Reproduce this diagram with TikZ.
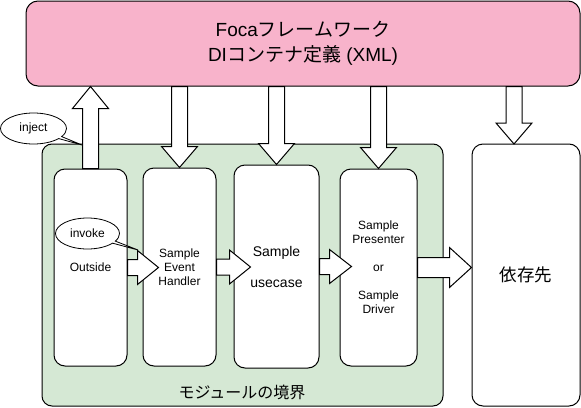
\documentclass[tikz,border=0pt]{standalone}
\usepackage{fontspec}
\setmainfont{Liberation Sans}
\newfontfamily\jp{Noto Sans CJK JP}
\usetikzlibrary{calc,shapes.geometric,shapes.callouts}
\definecolor{focapink}{HTML}{F8B3CB}
\definecolor{modgreen}{HTML}{D5E8D4}
\def\blockarrow[#1](#2)(#3)(#4:#5:#6){%
	\coordinate (ba) at ($(#3)!#6!(#2)$);
	\draw[#1] ($(#2)!#4!90:(#3)$) -- ($(ba)!#4!-90:(#2)$) -- ($(ba)!#5!-90:(#2)$) -- (#3) -- ($(ba)!#5!90:(#2)$) -- ($(ba)!#4!90:(#2)$) -- ($(#2)!#4!-90:(#3)$) -- cycle;}
\tikzset{
	box/.style={draw, line width=1pt, rounded corners=11pt, fill=white, inner sep=0pt},
	blockarr/.style={draw, line width=1pt, fill=white, line join=miter},
	bubble/.style={ellipse callout, draw, line width=0.8pt, fill=white, inner sep=0pt, callout pointer arc=9},
	small/.style={font=\fontsize{12}{14}\selectfont, align=center}
}

\begin{document}
\begin{tikzpicture}[x=1pt, y=-1pt]
			%%%%% START %%%%%
			\useasboundingbox (0, 0) rectangle (581, 407);
			
			\node[box, rounded corners=12pt, fill=focapink, minimum width=554pt, minimum height=85pt, align=center, font=\fontsize{19}{25}\selectfont] (foca) at (303, 43.5) {Foca{\jp フレームワーク}\\DI{\jp コンテナ定義} (XML)};
			
			\node[box, rounded corners=10pt, fill=modgreen, minimum width=401pt, minimum height=262pt] (module) at (242.5, 275) {};
			\node[font=\jp\fontsize{16}{16}\selectfont] (modlabel) at (242, 392) {モジュールの境界};
			
			\node[box, minimum width=108pt, minimum height=262pt, font=\jp\fontsize{17.5}{17.5}\selectfont] (dep) at (526, 275) {依存先};
			
			\node[box, small, minimum width=73pt, minimum height=197pt] (outside) at (90.5, 267.5) {Outside};
			\node[box, small, minimum width=73pt, minimum height=198pt] (handler) at (179.5, 267) {Sample\\Event\\Handler};
			\node[box, minimum width=85pt, minimum height=203pt, align=center, font=\fontsize{14}{17}\selectfont] (usecase) at (276.5, 266.5) {Sample\\[14pt]usecase};
			\node[box, small, minimum width=77pt, minimum height=197pt] (presenter) at (378.5, 267.5) {Sample\\Presenter\\[14pt]or\\[14pt]Sample\\Driver};
			
			% injection from the framework
			\coordinate (injtop) at (outside.north |- foca.south);
			\blockarrow[blockarr](outside.north)(injtop)(8pt:18pt:22pt)
			\coordinate (handtop) at (handler.north |- foca.south);
			\blockarrow[blockarr](handtop)(handler.north)(8pt:18pt:21pt)
			\coordinate (usetop) at (usecase.north |- foca.south);
			\blockarrow[blockarr](usetop)(usecase.north)(8pt:18pt:21pt)
			\coordinate (prestop) at (presenter.north |- foca.south);
			\blockarrow[blockarr](prestop)(presenter.north)(8pt:18pt:21pt)
			\coordinate (deptip) at (514, 144);
			\coordinate (deptop) at (deptip |- foca.south);
			\blockarrow[blockarr](deptop)(deptip)(8pt:18pt:21pt)
			
			% call chain
			\coordinate (t1) at ($(outside.east -| handler.west)+(16, 0)$);
			\blockarrow[blockarr](outside.east)(t1)(8pt:17pt:21pt)
			\coordinate (t2) at ($(handler.east -| usecase.west)+(17, 0)$);
			\blockarrow[blockarr](handler.east)(t2)(8pt:17pt:21pt)
			\coordinate (t3) at ($(usecase.east -| presenter.west)+(12, 0)$);
			\blockarrow[blockarr](usecase.east)(t3)(8pt:17pt:22pt)
			\coordinate (t4) at (presenter.east -| dep.west);
			\blockarrow[blockarr](presenter.east)(t4)(10pt:20pt:22pt)
			
			\node[bubble, small, minimum width=66pt, minimum height=31pt, callout absolute pointer={(82, 145)}] (inject) at (33.5, 128.5) {inject};
			\node[bubble, small, minimum width=64pt, minimum height=31pt, callout absolute pointer={(138, 250)}] (invoke) at (87.5, 233.5) {invoke};
			
			%%%%% END %%%%%
\end{tikzpicture}
\end{document}
